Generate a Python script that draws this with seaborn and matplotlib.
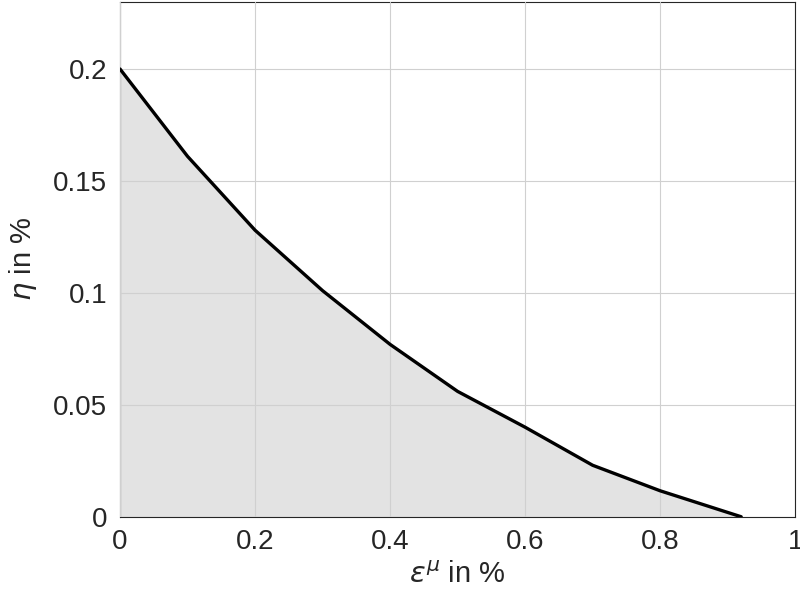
import matplotlib
matplotlib.use("Agg")
import matplotlib.pyplot as plt
import seaborn as sns
import pandas as pd

# values
eps_mu = [0.0, 0.1, 0.2, 0.3, 0.4, 0.5, 0.6, 0.7, 0.8, 0.92]
eta = [0.200, 0.161, 0.128, 0.101, 0.077, 0.056, 0.040, 0.023, 0.0116, 0.0]
x_ticks = [0, 0.2, 0.4, 0.6, 0.8, 1]
x_labels = ["0", "0.2", "0.4", "0.6", "0.8", "1"]
y_ticks = [0, 0.05, 0.1, 0.15, 0.2]
y_labels = ["0", "0.05", "0.1", "0.15", "0.2"]

sns.set_style("white")
plt.rcParams['font.family'] = ['Liberation Sans', 'DejaVu Sans']
plt.rcParams['mathtext.fontset'] = 'dejavusans'

df = pd.DataFrame({"eps": eps_mu, "eta": eta})

fig = plt.figure(figsize=(8, 6.13), dpi=100)
ax = fig.add_axes([0.15, 0.157, 0.844, 0.840])

ax.fill_between(df["eps"], df["eta"], 0, color="#e3e3e3", zorder=1)
sns.lineplot(data=df, x="eps", y="eta", color="black", linewidth=2.4, ax=ax, zorder=3)

ax.set_xlim(0, 1)
ax.set_ylim(0, 0.23)
ax.set_xticks(x_ticks)
ax.set_xticklabels(x_labels)
ax.set_yticks(y_ticks)
ax.set_yticklabels(y_labels)
ax.grid(True, color="#d0d0d0", linewidth=0.8, zorder=2)
ax.set_axisbelow(False)
for s in ax.spines.values():
    s.set_color("#262626")
    s.set_linewidth(0.8)
ax.tick_params(labelsize=20, colors="#262626", direction="in", length=5, pad=9)
ax.set_xlabel(r"$\epsilon^{\mu}$ in %", fontsize=21, color="#262626", labelpad=4)
ax.set_ylabel(r"$\eta$ in %", fontsize=21, color="#262626", labelpad=10)

fig.savefig("out.png", dpi=100)
